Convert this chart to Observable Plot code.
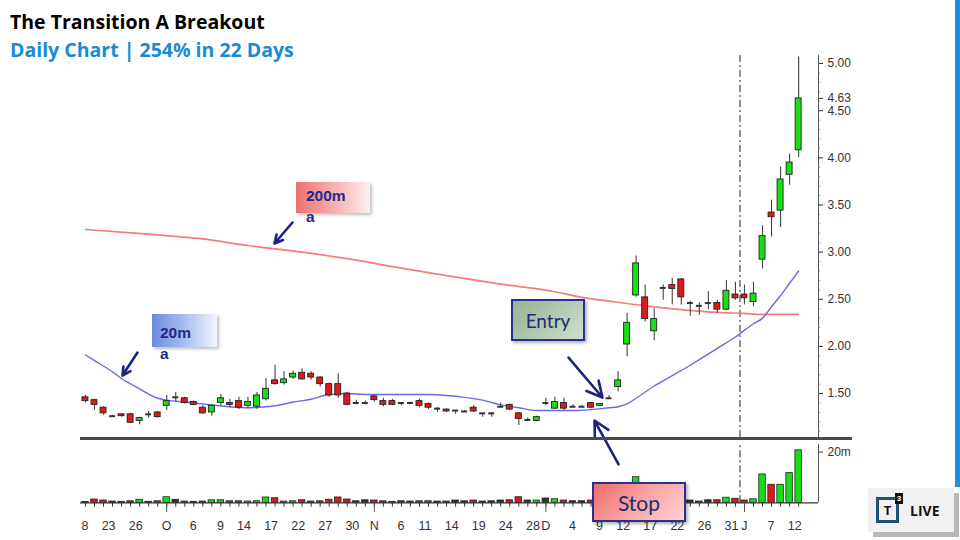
<!DOCTYPE html>
<html><head><meta charset="utf-8">
<script src="https://cdn.jsdelivr.net/npm/d3@7"></script>
<script src="https://cdn.jsdelivr.net/npm/@observablehq/plot@0.6"></script>
<style>
body{margin:0;background:#fff;}
#wrap{position:relative;width:960px;height:540px;overflow:hidden;background:#fff;font-family:"Liberation Sans",Arial,sans-serif;}
.abs{position:absolute;}
#price,#vol{position:absolute;left:0;}
#price{top:0;} #vol{top:440px;}
.title{left:10px;top:8px;font:bold 19.5px "Open Sans",sans-serif;color:#000;white-space:nowrap;line-height:27px;}
.sub{left:10px;top:36px;font:bold 19.5px "Open Sans",sans-serif;color:#1a8ad4;white-space:nowrap;line-height:27px;}
.ann{font:bold 15.5px "Liberation Sans",Arial,sans-serif;color:#1c2a8c;line-height:21px;}
.cbox{box-sizing:border-box;border:2px solid #2b2f8f;box-shadow:2px 2px 3px rgba(0,0,0,0.3);display:flex;align-items:center;justify-content:center;color:#1f2d6b;font-family:Lato,"Open Sans",sans-serif;}
</style></head><body><div id="wrap">
<div class="abs title">The Transition A Breakout</div>
<div class="abs sub">Daily Chart | 254% in 22 Days</div>
<div id="price"></div>
<div id="vol"></div>
<div class="abs" style="top:437px;height:3px;background:#4a4a4a;left:80px;width:772px;"></div>
<div class="abs" style="left:296px;top:182px;width:74px;height:31px;background:linear-gradient(90deg,#ee7070 0%,#f5a8a8 45%,#fdf0f0 100%);box-shadow:2px 2px 3px rgba(0,0,0,0.25);"></div>
<div class="abs ann" style="left:306px;top:185px;">200m<br>a</div>
<div class="abs" style="left:152px;top:314px;width:65px;height:33px;background:linear-gradient(90deg,#6a8be0 0%,#a9bdf0 50%,#f3f6fd 100%);box-shadow:2px 2px 3px rgba(0,0,0,0.25);"></div>
<div class="abs ann" style="left:160px;top:322px;">20m<br>a</div>
<div class="abs cbox" style="left:511px;top:299px;width:74px;height:42px;background:linear-gradient(135deg,#93b493 0%,#b4cab4 55%,#cfdfcf 100%);font-size:19px;">Entry</div>
<div class="abs cbox" style="left:592px;top:482px;width:94px;height:40px;background:linear-gradient(135deg,#f26c6c 0%,#f8a4a4 50%,#ffd2d2 100%);font-size:21px;">Stop</div>
<div class="abs" style="left:955px;top:0;width:5px;height:487px;background:#1a8fe3;"></div>
<div class="abs" style="left:868px;top:488px;width:86px;height:44px;background:#f1f1f1;box-shadow:5px 5px 0 #b8b8b8;"></div>
<div class="abs" style="left:876px;top:497px;width:17px;height:20px;border:3px solid #1d5275;"></div>
<div class="abs" style="left:876px;top:497px;width:23px;height:26px;display:flex;align-items:center;justify-content:center;font:bold 13px 'Open Sans',sans-serif;color:#111;">T</div>
<div class="abs" style="left:895px;top:493px;width:8px;height:11px;background:#111;color:#fff;font:bold 8px 'Liberation Sans',sans-serif;text-align:center;line-height:11px;">3</div>
<div class="abs" style="left:910px;top:501px;font:bold 14px 'Open Sans',sans-serif;color:#111;">LIVE</div>
</div>
<script>
// ---- data ----
const open  = [1.46,1.43,1.35,1.26,1.28,1.28,1.21,1.28,1.30,1.37, 1.47,1.45,1.41,1.35,1.30,1.40,1.40,1.42,1.37,1.36,
               1.44,1.64,1.61,1.67,1.72,1.71,1.67,1.60,1.60,1.50, 1.41,1.40,1.47,1.42,1.42,1.40,1.40,1.42,1.39,1.34,
               1.33,1.32,1.30,1.35,1.29,1.30,1.37,1.38,1.29,1.23, 1.21,1.40,1.34,1.40,1.37,1.37,1.40,1.37,1.45,1.57,
               2.02,2.54,2.52,2.16,2.62,2.65,2.71,2.46,2.43,2.47, 2.46,2.39,2.55,2.55,2.47,2.92,3.42,3.44,3.82,4.08];
const high  = [1.48,1.44,1.36,1.27,1.28,1.29,1.25,1.31,1.31,1.48, 1.51,1.46,1.42,1.37,1.38,1.49,1.44,1.46,1.46,1.51,
               1.66,1.80,1.73,1.74,1.76,1.73,1.68,1.61,1.71,1.51, 1.43,1.42,1.48,1.45,1.44,1.40,1.41,1.44,1.40,1.35,
               1.34,1.32,1.32,1.37,1.29,1.30,1.40,1.39,1.30,1.24, 1.26,1.45,1.46,1.45,1.38,1.37,1.40,1.39,1.48,1.73,
               2.35,2.96,2.65,2.40,2.65,2.72,2.72,2.48,2.46,2.58, 2.49,2.70,2.68,2.65,2.68,3.28,3.55,3.90,4.04,5.07];
const low   = [1.40,1.32,1.27,1.25,1.25,1.18,1.17,1.24,1.24,1.32, 1.41,1.39,1.37,1.28,1.26,1.37,1.35,1.33,1.34,1.33,
               1.42,1.59,1.59,1.65,1.64,1.64,1.57,1.46,1.45,1.37, 1.38,1.38,1.41,1.36,1.37,1.37,1.39,1.35,1.33,1.30,
               1.30,1.28,1.30,1.30,1.25,1.25,1.35,1.32,1.16,1.22, 1.20,1.37,1.33,1.32,1.36,1.35,1.34,1.37,1.44,1.52,
               1.89,2.52,2.26,2.06,2.49,2.44,2.44,2.32,2.33,2.39, 2.35,2.38,2.49,2.44,2.42,2.82,3.16,3.26,3.71,4.00];
const close = [1.42,1.38,1.29,1.26,1.26,1.19,1.24,1.28,1.25,1.42, 1.46,1.40,1.38,1.29,1.37,1.45,1.38,1.35,1.41,1.48,
               1.55,1.60,1.65,1.71,1.65,1.67,1.60,1.48,1.48,1.38, 1.40,1.40,1.43,1.38,1.38,1.40,1.40,1.37,1.35,1.34,
               1.31,1.32,1.31,1.31,1.29,1.29,1.36,1.33,1.23,1.22, 1.25,1.40,1.41,1.34,1.36,1.36,1.35,1.39,1.45,1.64,
               2.25,2.88,2.29,2.29,2.62,2.61,2.52,2.46,2.43,2.46, 2.39,2.59,2.51,2.51,2.56,3.17,3.37,3.77,3.95,4.63];
const volumeM = [0.3,1.3,0.9,0.5,0.4,0.6,1.2,0.4,0.6,2.2, 1.2,0.5,0.4,0.5,1.0,1.0,0.6,0.6,0.5,0.6,
                 2.1,1.8,0.5,0.6,1.0,0.5,0.6,1.2,2.1,1.3, 0.6,1.0,0.9,0.6,0.4,0.6,0.5,0.6,0.6,0.5,
                 0.5,0.9,0.6,0.9,0.5,0.6,0.9,1.0,2.2,0.9, 0.9,1.7,1.4,0.9,0.6,0.6,0.9,0.8,1.0,2.5,
                 7.0,10.1,6.5,4.0,2.5,2.0,1.8,0.9,0.5,1.0, 1.0,2.0,1.6,0.9,1.4,11.2,7.1,7.1,11.7,20.7];
const ma20Idx  = [0,1,3,4,6,8,9,11,14,16,18,20,21,23,25,27,29,31,34,38,40,42,44,46,48,50,54,56,58,59,60,61,63,65,67,68,70,72,74,75,76,77,78,79];
const ma20Val  = [1.91,1.85,1.73,1.66,1.55,1.45,1.43,1.41,1.38,1.36,1.35,1.36,1.37,1.41,1.44,1.49,1.50,1.49,1.49,1.49,1.48,1.46,1.43,1.38,1.35,1.32,1.32,1.33,1.35,1.36,1.39,1.45,1.58,1.69,1.80,1.86,1.98,2.10,2.24,2.30,2.42,2.54,2.67,2.80];
const ma200Idx = [0,7,13,18,24,29,35,40,46,52,55,58,62,66,70,73,75,79];
const ma200Val = [3.24,3.19,3.14,3.07,3.00,2.93,2.83,2.75,2.66,2.58,2.52,2.48,2.43,2.39,2.36,2.35,2.34,2.34];
const dateIdx  = [0,3,6,9,12,15,18,21,24,27,30,32,35,38,41,44,47,50,51,54,57,60,63,66,69,72,73,76,79];
const dateText = ["8","23","26","O","6","9","14","17","22","27","30","N","6","11","14","19","24","28","D","4","9","12","17","22","26","31","J","7","12"];
const priceTicks = [1.5,2.0,2.5,3.0,3.5,4.0,4.5,5.0];
const yearBreak = 72.5;
// annotation arrows (index, price)
const arrowFrom = [[22.93,3.314],[5.76,1.935],[53.51,1.882],[59.05,0.748]];
const arrowTo   = [[20.94,3.091],[4.10,1.691],[57.27,1.458],[56.39,1.214]];

// ---- build ----
const candles = open.map((o,i)=>{
  const c = close[i];
  const dir = c - o > 0.012 ? "up" : (o - c > 0.012 ? "down" : "flat");
  return {i, o, h: high[i], l: low[i], c, v: volumeM[i], dir};
});
const col = {up:"#14e014", down:"#e01818", flat:"#333"};
const ma20 = ma20Idx.map((i,k)=>({i, v: ma20Val[k]}));
const ma200 = ma200Idx.map((i,k)=>({i, v: ma200Val[k]}));
const arrows = arrowFrom.map((a,k)=>({x1:a[0],y1:a[1],x2:arrowTo[k][0],y2:arrowTo[k][1]}));
const xDom = [-0.55, 81.2];
const axisX = xDom[1];
const minor = d3.range(11, 51).map(d => d/10);
const labels = dateIdx.map((i,k)=>({i, t: dateText[k], month: /^[A-Z]$/.test(dateText[k])}));
const monthIdx = labels.filter(d=>d.month).map(d=>d.i);
const hw = 0.33;

const price = Plot.plot({
  width: 960, height: 440,
  marginLeft: 80, marginRight: 142, marginTop: 55, marginBottom: 3,
  x: {domain: xDom, axis: null},
  y: {domain: [1.034, 5.085]},
  style: {background: "transparent", overflow: "visible", fontFamily: "'Liberation Sans',Arial,sans-serif"},
  marks: [
    Plot.ruleX([yearBreak], {stroke: "#555", strokeWidth: 1.3, strokeDasharray: "7,3,2,3"}),
    Plot.line(ma200, {x: "i", y: "v", stroke: "#f37c7c", strokeWidth: 1.7, curve: "monotone-x"}),
    Plot.line(ma20, {x: "i", y: "v", stroke: "#6868ee", strokeWidth: 1.4, curve: "monotone-x"}),
    Plot.ruleX(candles, {x: "i", y1: "l", y2: "h", stroke: "#444", strokeWidth: 1.1}),
    Plot.rect(candles.filter(d=>d.dir!=="flat"), {x1: d=>d.i-hw, x2: d=>d.i+hw, y1: d=>Math.min(d.o,d.c), y2: d=>Math.max(d.o,d.c), fill: d=>col[d.dir], stroke: "#222", strokeWidth: 0.9}),
    Plot.ruleY(candles.filter(d=>d.dir==="flat"), {y: "c", x1: d=>d.i-hw, x2: d=>d.i+hw, stroke: "#333", strokeWidth: 2}),
    Plot.ruleX([axisX], {stroke: "#555", strokeWidth: 1}),
    Plot.ruleY(minor, {x1: axisX, x2: axisX + 0.22, stroke: "#666", strokeWidth: 0.8}),
    Plot.axisY({anchor: "right", ticks: priceTicks, tickFormat: ".2f", tickSize: 4, tickPadding: 5, fontSize: 12, color: "#333", label: null}),
    Plot.axisY({anchor: "right", ticks: [close[close.length-1]], tickFormat: ".2f", tickSize: 4, tickPadding: 5, fontSize: 12, color: "#333", label: null}),
    Plot.arrow(arrows, {x1: "x1", y1: "y1", x2: "x2", y2: "y2", stroke: "#1b2580", strokeWidth: 2.6, headLength: 10, headAngle: 55})
  ]
});
document.getElementById("price").append(price);

const vol = Plot.plot({
  width: 960, height: 100,
  marginLeft: 80, marginRight: 142, marginTop: 4, marginBottom: 37.7,
  x: {domain: xDom, axis: null},
  y: {domain: [0, 23]},
  style: {background: "transparent", overflow: "visible", fontFamily: "'Liberation Sans',Arial,sans-serif"},
  marks: [
    Plot.ruleX([yearBreak], {y1: 0, y2: 23, stroke: "#555", strokeWidth: 1.3, strokeDasharray: "7,3,2,3"}),
    Plot.rectY(candles, {x1: d=>d.i-0.36, x2: d=>d.i+0.36, y: "v", fill: d=>col[d.dir], stroke: "#222", strokeWidth: 0.8}),
    Plot.ruleY([0], {stroke: "#333", strokeWidth: 1.2}),
    Plot.ruleX(candles, {x: "i", y1: 0, y2: -1.7, stroke: "#333"}),
    Plot.ruleX(monthIdx, {x: d=>d, y1: 0, y2: -3.8, stroke: "#555"}),
    Plot.ruleX([axisX], {y1: 0, y2: 23, stroke: "#555"}),
    Plot.axisY({anchor: "right", ticks: [20], tickFormat: d=>d+"m", tickSize: 4, tickPadding: 5, fontSize: 12, color: "#333", label: null}),
    Plot.text(labels.filter(d=>!d.month), {x: "i", text: "t", frameAnchor: "bottom", dy: 27, dx: 3, textAnchor: "end", fontSize: 12.5, fill: "#333"}),
    Plot.text(labels.filter(d=>d.month), {x: "i", text: "t", frameAnchor: "bottom", dy: 27, textAnchor: "middle", fontSize: 12.5, fill: "#333"})
  ]
});
document.getElementById("vol").append(vol);
</script>
</body></html>
